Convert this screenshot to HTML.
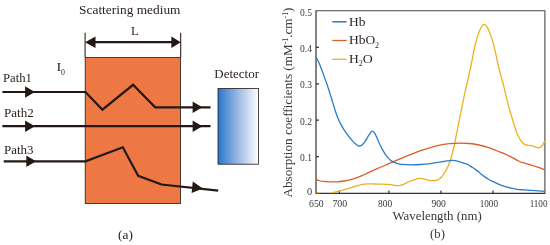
<!DOCTYPE html>
<html><head><meta charset="utf-8"><title>Figure</title>
<style>
html,body{margin:0;padding:0;background:#fff;}
svg{display:block}
text{font-family:"Liberation Serif",serif;}
.d{fill:#2e2422}
.c{fill:#383838}
</style></head><body>
<svg width="550" height="245" viewBox="0 0 550 245">
<defs>
<linearGradient id="g" x1="0" x2="1" y1="0" y2="0">
<stop offset="0" stop-color="#2778cb"/><stop offset="0.5" stop-color="#9bb9e3"/><stop offset="1" stop-color="#ffffff"/>
</linearGradient>
</defs>
<rect width="550" height="245" fill="#fff"/>
<!-- (a) -->
<rect x="85.2" y="57.6" width="95.4" height="145.8" fill="#ee7844" stroke="#231815" stroke-width="0.8"/>
<line x1="85.1" y1="32.7" x2="85.1" y2="57.5" stroke="#231815" stroke-width="1.05"/>
<line x1="180.7" y1="32.7" x2="180.7" y2="57.5" stroke="#231815" stroke-width="1.05"/>
<line x1="93" y1="42.2" x2="173" y2="42.2" stroke="#231815" stroke-width="2.2"/>
<polygon points="85.1,42.2 95.5,36.5 95.5,47.9" fill="#231815"/>
<polygon points="180.7,42.2 171.4,36.5 171.4,47.9" fill="#231815"/>
<g fill="none" stroke="#231815" stroke-width="2.2" stroke-linejoin="miter">
<polyline points="2.4,92 85.5,92 102.4,109.7 133.1,84.8 155.2,107.3 210.5,107.3"/>
<line x1="2.4" y1="126.2" x2="210.5" y2="126.2"/>
<polyline points="3.7,161.3 85.5,161.3 122.8,147.3 138.2,175.8 161.6,184.5 218.2,190.6"/>
</g>
<g fill="#231815">
<polygon points="25.1,86.3 34.8,92 25.1,97.7"/>
<polygon points="25.1,120.5 34.8,126.2 25.1,131.9"/>
<polygon points="26.3,155.6 36,161.3 26.3,167"/>
<polygon points="192.6,101.6 202.3,107.3 192.6,113"/>
<polygon points="192.6,120.5 202.3,126.2 192.6,131.9"/>
<polygon points="192.8,181.6 202.8,188.4 191.6,193"/>
</g>
<rect x="218" y="88.5" width="40.4" height="75.7" fill="url(#g)" stroke="#231815" stroke-width="0.8"/>
<text class="d" x="79.1" y="13.6" font-size="12.6" textLength="101.4" lengthAdjust="spacingAndGlyphs">Scattering medium</text>
<text class="d" x="131" y="34.5" font-size="12.6" textLength="7.6" lengthAdjust="spacingAndGlyphs">L</text>
<text class="d" x="56.4" y="70.8" font-size="13" textLength="4.8" lengthAdjust="spacingAndGlyphs">I</text>
<text class="d" x="61.1" y="74.5" font-size="7.8">0</text>
<text class="d" x="3.05" y="82" font-size="12.2" textLength="28.9" lengthAdjust="spacingAndGlyphs">Path1</text>
<text class="d" x="3.97" y="117.1" font-size="12.2" textLength="29.8" lengthAdjust="spacingAndGlyphs">Path2</text>
<text class="d" x="3.97" y="153.5" font-size="12.2" textLength="29.6" lengthAdjust="spacingAndGlyphs">Path3</text>
<text class="d" x="214.3" y="77.6" font-size="12.4" textLength="44.7" lengthAdjust="spacingAndGlyphs">Detector</text>
<text class="d" x="118.05" y="238.7" font-size="12.4" textLength="14.9" lengthAdjust="spacingAndGlyphs">(a)</text>
<!-- (b) -->
<g stroke="#333" stroke-width="1.2" fill="none">
<polyline points="316,10.2 316,193.4 545.4,193.4"/>
<polyline points="316,10.7 544.9,10.7 544.9,193.4" stroke="#484848" stroke-width="1.1"/>
<path d="M339.4 193.4v-3M388.9 193.4v-3M441 193.4v-3M493 193.4v-3"/>
<path d="M316 156.6h3M316 120.2h3M316 83.8h3M316 47.4h3"/>
</g>
<g fill="none" stroke-width="1.3" stroke-linejoin="round" stroke-linecap="butt">
<path stroke="#edb120" d="M332.4 192.8C333.7 192.5 337.2 191.7 340.2 190.9C343.2 190.1 347.0 188.8 350.4 187.8C353.8 186.8 357.7 185.5 360.6 184.8C363.5 184.1 365.4 183.9 367.8 183.8C370.2 183.7 372.5 183.9 375.0 184.0C377.5 184.1 380.1 184.1 382.6 184.2C385.2 184.3 388.3 184.5 390.3 184.7C392.3 184.9 393.3 185.2 394.5 185.4C395.7 185.6 396.4 185.7 397.3 185.7C398.2 185.7 399.2 185.5 400.2 185.3C401.1 185.1 401.5 185.2 403.0 184.6C404.5 184.0 407.5 182.5 409.4 181.7C411.3 180.9 412.8 180.1 414.5 179.6C416.2 179.1 417.8 178.5 419.5 178.4C421.2 178.3 422.9 178.8 424.6 179.1C426.3 179.4 428.1 180.1 429.7 180.4C431.3 180.7 433.0 180.7 434.2 180.7C435.4 180.7 436.1 180.5 437.0 180.2C437.9 179.9 438.6 179.5 439.3 179.0C440.1 178.5 440.8 177.8 441.5 177.0C442.2 176.2 442.8 175.4 443.4 174.5C444.0 173.6 444.5 172.9 445.3 171.5C446.1 170.1 447.3 168.3 448.3 165.8C449.3 163.3 450.5 160.2 451.5 156.7C452.5 153.1 453.6 148.6 454.5 144.5C455.4 140.4 456.0 136.5 456.9 132.2C457.8 127.9 458.6 123.8 459.6 118.7C460.6 113.6 461.8 107.5 463.0 101.8C464.2 96.1 465.4 90.4 466.7 84.7C468.0 79.0 469.5 72.6 470.6 67.5C471.7 62.4 472.4 58.2 473.2 54.1C474.0 50.0 474.9 46.4 475.7 43.1C476.5 39.9 477.3 37.0 478.1 34.6C478.9 32.2 479.9 30.0 480.6 28.5C481.3 27.0 481.9 26.1 482.5 25.4C483.1 24.7 483.7 24.3 484.2 24.3C484.8 24.3 485.4 24.7 486.0 25.4C486.6 26.1 487.2 27.0 487.9 28.5C488.6 30.0 489.6 32.4 490.4 34.6C491.2 36.8 492.0 39.0 492.8 41.9C493.6 44.8 494.5 48.2 495.3 51.7C496.1 55.2 496.9 59.2 497.7 62.7C498.5 66.2 499.1 68.8 500.0 72.5C500.9 76.2 502.2 80.2 503.4 84.7C504.5 89.2 505.9 95.2 506.9 99.4C507.9 103.6 508.5 106.0 509.6 109.8C510.7 113.6 512.1 118.1 513.3 122.0C514.5 125.9 515.7 130.0 516.9 133.1C518.1 136.2 519.4 138.6 520.6 140.4C521.8 142.2 523.1 143.3 524.3 144.1C525.5 144.9 526.8 145.1 528.0 145.3C529.2 145.6 530.4 145.3 531.6 145.6C532.8 145.9 534.1 146.6 535.3 147.0C536.4 147.4 537.5 147.9 538.5 147.8C539.5 147.7 540.5 147.3 541.4 146.5C542.3 145.7 543.3 143.8 543.9 142.9C544.5 142.0 544.9 141.4 545.1 141.1"/>
<path stroke="#d95f2a" d="M316.0 179.1C316.4 179.3 317.5 180.1 318.7 180.5C319.9 180.9 321.3 181.1 323.1 181.3C324.9 181.5 327.2 181.7 329.6 181.8C332.0 181.9 334.9 181.9 337.3 181.8C339.7 181.7 341.6 181.4 343.8 181.0C346.0 180.6 348.1 180.2 350.3 179.6C352.5 179.0 354.7 178.4 356.9 177.6C359.1 176.8 361.2 175.9 363.4 175.0C365.6 174.1 367.7 173.0 370.0 171.9C372.3 170.8 374.9 169.7 377.3 168.6C379.8 167.5 382.1 166.6 384.7 165.5C387.3 164.4 390.3 163.0 393.2 161.8C396.1 160.6 398.7 159.4 401.8 158.1C404.9 156.8 408.3 155.4 411.6 154.1C414.9 152.8 418.1 151.5 421.4 150.4C424.7 149.3 428.1 148.3 431.2 147.4C434.3 146.5 436.7 145.8 439.8 145.2C442.9 144.6 446.3 144.0 449.6 143.7C452.9 143.4 456.1 143.2 459.4 143.2C462.6 143.2 465.9 143.2 469.1 143.5C472.4 143.8 475.6 144.3 478.9 145.0C482.2 145.7 485.6 146.6 488.7 147.6C491.8 148.6 494.6 150.0 497.3 151.0C500.0 152.0 502.2 152.7 504.7 153.8C507.1 154.9 510.0 156.4 512.0 157.4C514.0 158.4 515.5 159.3 516.9 160.1C518.3 160.9 519.0 161.4 520.6 162.0C522.2 162.6 524.5 163.1 526.7 163.8C529.0 164.5 531.7 165.2 534.1 166.0C536.5 166.8 539.6 167.8 541.4 168.4C543.2 169.1 544.5 169.7 545.1 169.9"/>
<path stroke="#2a7bc8" d="M316.0 57.0C316.4 57.8 317.6 59.8 318.4 61.5C319.2 63.2 319.7 64.5 320.7 67.1C321.7 69.7 323.1 73.6 324.3 76.9C325.5 80.2 326.6 83.2 327.8 86.7C329.0 90.2 330.1 93.9 331.3 97.7C332.5 101.5 333.7 106.2 334.9 109.8C336.1 113.3 337.3 116.5 338.3 119.0C339.3 121.5 340.0 122.8 341.0 124.6C342.0 126.4 342.7 127.6 344.1 129.8C345.6 132.0 348.0 135.5 349.7 137.6C351.4 139.7 353.0 141.4 354.1 142.6C355.2 143.8 355.8 144.1 356.6 144.7C357.4 145.3 358.2 146.0 359.1 146.0C360.0 146.0 361.0 145.7 362.0 144.9C363.0 144.1 364.3 142.6 365.3 141.1C366.3 139.6 367.3 137.6 368.2 136.2C369.1 134.8 369.9 133.3 370.6 132.5C371.3 131.7 371.6 131.2 372.2 131.2C372.8 131.2 373.6 131.7 374.3 132.6C375.0 133.5 375.6 134.9 376.4 136.5C377.1 138.1 377.9 140.1 378.8 142.2C379.8 144.3 381.1 147.0 382.1 148.9C383.1 150.8 384.1 152.4 385.0 153.8C385.9 155.2 386.8 156.4 387.7 157.4C388.6 158.4 389.2 159.1 390.2 159.9C391.2 160.7 392.5 161.5 393.7 162.1C394.9 162.7 396.1 163.2 397.4 163.6C398.7 164.0 399.1 164.2 401.4 164.4C403.7 164.6 407.9 164.8 411.2 164.8C414.4 164.8 417.8 164.7 420.9 164.5C424.0 164.3 426.9 164.1 430.0 163.7C433.1 163.3 436.9 162.7 439.8 162.2C442.7 161.7 444.9 161.2 447.1 160.9C449.3 160.6 451.4 160.3 453.2 160.4C455.0 160.5 456.2 160.8 458.1 161.3C460.0 161.8 462.6 162.7 464.3 163.3C466.0 163.9 466.9 164.1 468.2 164.8C469.5 165.5 470.8 166.4 472.2 167.3C473.6 168.2 474.9 169.1 476.3 170.1C477.7 171.1 479.0 172.3 480.4 173.4C481.8 174.5 483.1 175.6 484.5 176.6C485.9 177.6 487.1 178.4 488.5 179.2C489.9 180.0 490.6 180.4 492.6 181.4C494.7 182.4 498.1 184.1 500.8 185.1C503.5 186.1 506.2 186.9 508.9 187.6C511.6 188.3 514.5 188.9 517.1 189.3C519.7 189.7 521.9 189.7 524.3 189.9C526.7 190.1 529.1 190.2 531.6 190.4C534.1 190.6 536.8 190.7 539.0 190.9C541.2 191.1 544.1 191.3 545.1 191.4"/>
</g>
<path d="M316.6 192.8H319.8" stroke="#edb120" stroke-width="1.2" fill="none"/>
<g class="c" font-size="9.4">
<text x="309.1" y="206.7" font-size="9.9" textLength="14.65" lengthAdjust="spacingAndGlyphs">650</text>
<text x="332.4" y="206.7" font-size="9.9" textLength="14.9" lengthAdjust="spacingAndGlyphs">700</text>
<text x="378.1" y="206.5" textLength="14.1" lengthAdjust="spacingAndGlyphs">800</text>
<text x="431.45" y="206.5" textLength="14.45" lengthAdjust="spacingAndGlyphs">900</text>
<text x="479.7" y="206.5" textLength="18.3" lengthAdjust="spacingAndGlyphs">1000</text>
<text x="529.65" y="206.5" textLength="17.8" lengthAdjust="spacingAndGlyphs">1100</text>
<text x="300.1" y="15.6" textLength="11.95" lengthAdjust="spacingAndGlyphs">0.5</text>
<text x="300.1" y="52" textLength="11.95" lengthAdjust="spacingAndGlyphs">0.4</text>
<text x="300.1" y="88.4" textLength="11.95" lengthAdjust="spacingAndGlyphs">0.3</text>
<text x="300.1" y="124.8" textLength="11.95" lengthAdjust="spacingAndGlyphs">0.2</text>
<text x="300.1" y="161.2" textLength="11.95" lengthAdjust="spacingAndGlyphs">0.1</text>
<text x="306.9" y="194.8" textLength="5.2" lengthAdjust="spacingAndGlyphs">0</text>
</g>
<text class="c" x="392.5" y="219.8" font-size="12.4" textLength="89.2" lengthAdjust="spacingAndGlyphs">Wavelength (nm)</text>
<text class="c" x="430.1" y="238.3" font-size="12.4" textLength="14.85" lengthAdjust="spacingAndGlyphs">(b)</text>
<text class="c" transform="translate(292.3,197.5) rotate(-90)" font-size="12.4" textLength="190" lengthAdjust="spacingAndGlyphs">Absorption coefficients (mM<tspan font-size="7.4" dy="-4.6">-1</tspan><tspan dy="4.6">.cm</tspan><tspan font-size="7.4" dy="-4.6">-1</tspan><tspan dy="4.6">)</tspan></text>
<g stroke-width="1.3" fill="none">
<line x1="332.3" y1="21.8" x2="346.6" y2="21.8" stroke="#2a7bc8" stroke-width="1.5"/>
<line x1="332.3" y1="40.5" x2="346.6" y2="40.5" stroke="#d95f2a"/>
<line x1="332.3" y1="59.3" x2="346.6" y2="59.3" stroke="#edb120"/>
</g>
<g class="d" font-size="12.4">
<text x="349.1" y="25.5" textLength="16.4" lengthAdjust="spacingAndGlyphs">Hb</text>
<text x="349.1" y="44.3" textLength="26.25" lengthAdjust="spacingAndGlyphs">HbO</text>
<text x="375" y="47.9" font-size="8">2</text>
<text x="349.1" y="62.5" textLength="9.8" lengthAdjust="spacingAndGlyphs">H</text>
<text x="358.7" y="66.3" font-size="8">2</text>
<text x="362.8" y="62.5" textLength="10" lengthAdjust="spacingAndGlyphs">O</text>
</g>
</svg>
</body></html>
